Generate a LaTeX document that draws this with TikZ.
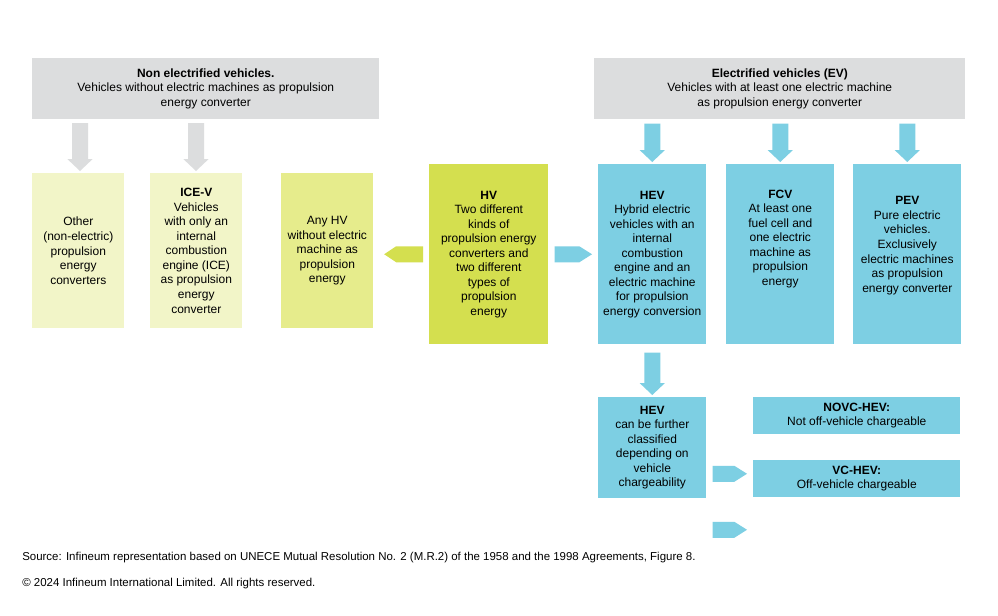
\documentclass[tikz,border=0pt]{standalone}
\usepackage{fontspec}
\setmainfont{Liberation Sans}
\usetikzlibrary{calc}
\definecolor{hdr}{HTML}{DCDDDE}
\definecolor{gar}{HTML}{DCDDDE}
\definecolor{ylight}{HTML}{F2F5C8}
\definecolor{ymid}{HTML}{E6EC8C}
\definecolor{yhv}{HTML}{D4DF4F}
\definecolor{bl}{HTML}{7DCFE3}
\newcommand\varr[3]{\fill[#1] let \p1=(#2),\p2=(#3) in (\x1-6pt,\y1-3pt)--(\x1+6pt,\y1-3pt)--(\x1+6pt,\y2+10.5pt)--(\x1+9.5pt,\y2+10.5pt)--(\x1,\y2+1.5pt)--(\x1-9.5pt,\y2+10.5pt)--(\x1-6pt,\y2+10.5pt)--cycle;}
\newcommand\rarr[3]{\fill[#1] let \p1=(#2),\p2=(#3) in (\x1+4.5pt,\y1-6pt)--(\x2-14pt,\y1-6pt)--(\x2-4.5pt,\y1)--(\x2-14pt,\y1+6pt)--(\x1+4.5pt,\y1+6pt)--cycle;}
\newcommand\larr[3]{\fill[#1] let \p1=(#2),\p2=(#3) in (\x1-4.5pt,\y1-6pt)--(\x2+17pt,\y1-6pt)--(\x2+8pt,\y1)--(\x2+17pt,\y1+6pt)--(\x1-4.5pt,\y1+6pt)--cycle;}
\begin{document}
\begin{tikzpicture}[x=0.75pt,y=-0.75pt,
  box/.style={inner sep=0pt,align=center,anchor=north west,font=\fontsize{9}{10.9}\selectfont},
  foot/.style={inner sep=0pt,anchor=base west,font=\fontsize{8.6}{10}\selectfont}]
\useasboundingbox[fill=white] (0,0) rectangle (998,615);
\node[box,fill=hdr,minimum width=260.25pt,minimum height=45.75pt] (ne) at (32,58) {\textbf{Non electrified vehicles.}\\Vehicles without electric machines as propulsion\\energy converter};
\node[box,fill=hdr,minimum width=278.25pt,minimum height=45.75pt] (ev) at (594,58) {\textbf{Electrified vehicles (EV)}\\Vehicles with at least one electric machine\\as propulsion energy converter};
\node[box,fill=ylight,minimum width=69pt,minimum height=116.25pt] (oth) at (32,173) {Other\\(non-electric)\\propulsion\\energy\\converters};
\node[box,fill=ylight,minimum width=69pt,minimum height=116.25pt] (ice) at (150,173) {\textbf{ICE-V}\\Vehicles\\with only an\\internal\\combustion\\engine (ICE)\\as propulsion\\energy\\converter};
\node[box,fill=ymid,minimum width=69pt,minimum height=116.25pt] (any) at (281,173) {Any HV\\without electric\\machine as\\propulsion\\energy};
\node[box,fill=yhv,minimum width=89.25pt,minimum height=135pt] (hv) at (429,164) {\textbf{HV}\\Two different\\kinds of\\propulsion energy\\converters and\\two different\\types of\\propulsion\\energy};
\node[box,fill=bl,minimum width=81pt,minimum height=135pt] (hev) at (598,164) {\textbf{HEV}\\Hybrid electric\\vehicles with an\\internal\\combustion\\engine and an\\electric machine\\for propulsion\\energy conversion};
\node[box,fill=bl,minimum width=81pt,minimum height=135pt] (fcv) at (726,164) {\textbf{FCV}\\At least one\\fuel cell and\\one electric\\machine as\\propulsion\\energy\\[14pt]};
\node[box,fill=bl,minimum width=81pt,minimum height=135pt] (pev) at (853,164) {\textbf{PEV}\\Pure electric\\vehicles.\\Exclusively\\electric machines\\as propulsion\\energy converter\\[4pt]};
\node[box,fill=bl,minimum width=81pt,minimum height=75.75pt] (hev2) at (598,397) {\textbf{HEV}\\can be further\\classified\\depending on\\vehicle\\chargeability};
\node[box,fill=bl,minimum width=155.25pt,minimum height=27.75pt] (novc) at (753,397) {\textbf{NOVC-HEV:}\\Not off-vehicle chargeable};
\node[box,fill=bl,minimum width=155.25pt,minimum height=27.75pt] (vc) at (753,460) {\textbf{VC-HEV:}\\Off-vehicle chargeable};
\coordinate (g1) at (80,119);
\coordinate (g2) at (196,119);
\varr{gar}{g1}{g1 |- oth.north}
\varr{gar}{g2}{g2 |- ice.north}
\varr{bl}{ev.south -| hev.north}{hev.north}
\varr{bl}{ev.south -| fcv.north}{fcv.north}
\varr{bl}{ev.south -| pev.north}{pev.north}
\varr{bl}{$(hev.south)+(0,-3pt)$}{hev2.north}
\larr{yhv}{hv.west}{any.east}
\rarr{bl}{hv.east}{hev.west}
\rarr{bl}{$(hev2.east)+(0,-19.5pt)$}{novc.west}
\rarr{bl}{$(hev2.east)+(0,-61.5pt)$}{vc.west}
\node[foot] (src) at (22,560) {Source: Infineum representation based on UNECE Mutual Resolution No. 2 (M.R.2) of the 1958 and the 1998 Agreements, Figure 8.};
\node[foot] (cp) at (22,586) {© 2024 Infineum International Limited. All rights reserved.};
\end{tikzpicture}
\end{document}
